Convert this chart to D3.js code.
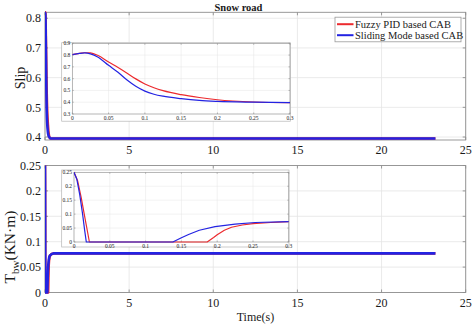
<!DOCTYPE html>
<html>
<head>
<meta charset="utf-8">
<script src="https://cdn.jsdelivr.net/npm/d3@7"></script>
<style>
  html, body { margin: 0; padding: 0; background: #fff; }
  svg { display: block; }
</style>
</head>
<body>
<svg id="chart" width="474" height="327" font-family="'Liberation Serif', 'Times New Roman', serif"></svg>
<script>
// ---- data -------------------------------------------------------------
const seriesNames = ["Fuzzy PID based CAB", "Sliding Mode based CAB"];
const xTicks = [0, 5, 10, 15, 20, 25];
const slipTicks = [0.4, 0.5, 0.6, 0.7, 0.8];
const torqueTicks = [0, 0.05, 0.1, 0.15, 0.2, 0.25];
const zoomXTicks = [0, 0.05, 0.1, 0.15, 0.2, 0.25, 0.3];
const zoomSlipTicks = [0.3, 0.4, 0.5, 0.6, 0.7, 0.8, 0.9];
const zoomTorqueTicks = [0, 0.05, 0.1, 0.15, 0.2, 0.25];

// wheel slip, shared time base (s)
const slipTime = [0, 0.01, 0.017, 0.025, 0.035, 0.05, 0.0625, 0.075, 0.0875, 0.1, 0.1125, 0.125, 0.15, 0.175, 0.2, 0.25, 0.3, 0.4, 0.6, 1, 23.2];
const slipFuzzy = [0.804, 0.815, 0.82, 0.818, 0.798, 0.741, 0.696, 0.648, 0.598, 0.555, 0.523, 0.498, 0.464, 0.44, 0.421, 0.402, 0.396, 0.395, 0.395, 0.395, 0.395];
const slipSliding = [0.804, 0.814, 0.818, 0.81, 0.784, 0.713, 0.656, 0.59, 0.535, 0.494, 0.468, 0.451, 0.43, 0.415, 0.407, 0.4, 0.396, 0.395, 0.395, 0.395, 0.395];

// braking torque (KN·m)
const torqueTimeFuzzy = [0, 0.005, 0.01, 0.015, 0.019, 0.0215, 0.186, 0.195, 0.2, 0.21, 0.22, 0.235, 0.25, 0.275, 0.3, 0.4, 0.5, 0.7, 1, 23.2];
const torqueFuzzy = [0.25, 0.22, 0.16, 0.09, 0.035, 0, 0, 0.016, 0.026, 0.042, 0.053, 0.061, 0.066, 0.07, 0.073, 0.076, 0.077, 0.077, 0.077, 0.077];
const torqueTimeSliding = [0, 0.004, 0.008, 0.012, 0.015, 0.0172, 0.138, 0.15, 0.16, 0.175, 0.197, 0.225, 0.253, 0.3, 0.4, 0.5, 0.7, 1, 23.2];
const torqueSliding = [0.25, 0.225, 0.17, 0.1, 0.04, 0, 0, 0.015, 0.027, 0.042, 0.055, 0.064, 0.07, 0.073, 0.076, 0.077, 0.077, 0.077, 0.077];

// ---- styling ----------------------------------------------------------
const RED = "#ec2a2e";
const BLUE = "#2323e2";
const GRID = "#e4e4e4";
const BOX = "#8f8f8f";
const TXT = "#1a1a1a";

const svg = d3.select("#chart");
const zip = (xs, ys) => xs.map((x, i) => ({ x, y: ys[i] }));

// generic axes panel: box, grid, inward ticks on all four sides
function panel(g, x, y, opt) {
  const [x0, x1] = x.range();
  const [y0, y1] = y.range(); // y0 bottom, y1 top
  // grid
  g.append("g").selectAll("line").data(opt.xTicks).join("line")
    .attr("x1", d => x(d)).attr("x2", d => x(d)).attr("y1", y0).attr("y2", y1)
    .attr("stroke", GRID).attr("stroke-width", opt.gw);
  g.append("g").selectAll("line").data(opt.yTicks).join("line")
    .attr("y1", d => y(d)).attr("y2", d => y(d)).attr("x1", x0).attr("x2", x1)
    .attr("stroke", GRID).attr("stroke-width", opt.gw);
  // box
  g.append("rect").attr("x", x0).attr("y", y1).attr("width", x1 - x0).attr("height", y0 - y1)
    .attr("fill", "none").attr("stroke", BOX).attr("stroke-width", opt.bw);
  // ticks (inward)
  const t = opt.tick;
  const tk = g.append("g").attr("stroke", BOX).attr("stroke-width", opt.bw);
  opt.xTicks.forEach(d => {
    tk.append("line").attr("x1", x(d)).attr("x2", x(d)).attr("y1", y0).attr("y2", y0 - t);
    tk.append("line").attr("x1", x(d)).attr("x2", x(d)).attr("y1", y1).attr("y2", y1 + t);
  });
  opt.yTicks.forEach(d => {
    tk.append("line").attr("y1", y(d)).attr("y2", y(d)).attr("x1", x0).attr("x2", x0 + t);
    tk.append("line").attr("y1", y(d)).attr("y2", y(d)).attr("x1", x1).attr("x2", x1 - t);
  });
  // tick labels
  g.append("g").selectAll("text").data(opt.xTicks).join("text")
    .attr("x", d => x(d)).attr("y", y0 + opt.xLabOff)
    .attr("text-anchor", "middle").attr("font-size", opt.fs).attr("fill", TXT)
    .text(opt.xFmt);
  g.append("g").selectAll("text").data(opt.yTicks).join("text")
    .attr("x", x0 - opt.yLabOff).attr("y", d => y(d)).attr("dy", "0.35em")
    .attr("text-anchor", "end").attr("font-size", opt.fs).attr("fill", TXT)
    .text(opt.yFmt);
}

function drawLines(g, x, y, series, width, clipId) {
  const [x0, x1] = x.range();
  const [y0, y1] = y.range();
  g.append("clipPath").attr("id", clipId).append("rect")
    .attr("x", x0).attr("y", y1 - 2).attr("width", x1 - x0).attr("height", y0 - y1 + 4);
  const lg = g.append("g").attr("clip-path", `url(#${clipId})`);
  series.forEach(s => {
    const line = d3.line().x(d => x(d.x)).y(d => y(d.y)).curve(s.curve);
    lg.append("path").datum(s.data.filter(d => d.x <= x.domain()[1] + 1e-9))
      .attr("d", line).attr("fill", "none").attr("stroke", s.color)
      .attr("stroke-width", width).attr("stroke-linejoin", "round");
  });
}

const fmt = d => String(+d.toFixed(2));

// ---- upper panel: slip ------------------------------------------------
const xMain = d3.scaleLinear().domain([0, 25]).range([45, 465.7]);
const ySlip = d3.scaleLinear().domain([0.39, 0.82]).range([140, 12.3]);
const gTop = svg.append("g");
panel(gTop, xMain, ySlip, { xTicks, yTicks: slipTicks, gw: 0.8, bw: 0.9, tick: 3, fs: 12, xLabOff: 14, yLabOff: 4, xFmt: d => d, yFmt: fmt });

const slipSeries = [
  { color: RED, data: zip(slipTime, slipFuzzy), curve: d3.curveMonotoneX },
  { color: BLUE, data: zip(slipTime, slipSliding), curve: d3.curveMonotoneX }
];
drawLines(gTop, xMain, ySlip, slipSeries, 2.6, "clipTop");

// title
svg.append("text").attr("x", 238.5).attr("y", 10.5).attr("text-anchor", "middle")
  .attr("font-size", 10.5).attr("font-weight", "bold").attr("fill", TXT).text("Snow road");

// y label
svg.append("text").attr("transform", "translate(25,78) rotate(-90)")
  .attr("text-anchor", "middle").attr("font-size", 14).attr("fill", TXT).text("Slip");

// inset: slip zoom
const gInTop = svg.append("g");
gInTop.append("rect").attr("x", 61.7).attr("y", 42.7).attr("width", 228.6).attr("height", 78.5)
  .attr("fill", "#fff").attr("stroke", "#b5b5b5").attr("stroke-width", 0.7);
const xZ1 = d3.scaleLinear().domain([0, 0.3]).range([72.3, 290]);
const yZ1 = d3.scaleLinear().domain([0.3, 0.9]).range([114, 43.3]);
panel(gInTop, xZ1, yZ1, { xTicks: zoomXTicks, yTicks: zoomSlipTicks, gw: 0.5, bw: 0.6, tick: 1.5, fs: 5.5, xLabOff: 6, yLabOff: 2, xFmt: fmt, yFmt: fmt });
drawLines(gInTop, xZ1, yZ1, slipSeries, 1.2, "clipZ1");

// legend
const leg = svg.append("g");
leg.append("rect").attr("x", 335).attr("y", 17.2).attr("width", 126).attr("height", 24.6)
  .attr("fill", "#fff").attr("stroke", "#9a9a9a").attr("stroke-width", 0.8);
[RED, BLUE].forEach((c, i) => {
  const yy = 24.2 + i * 11;
  leg.append("line").attr("x1", 337).attr("x2", 353.5).attr("y1", yy).attr("y2", yy)
    .attr("stroke", c).attr("stroke-width", 2);
  leg.append("text").attr("x", 355).attr("y", yy).attr("dy", "0.35em")
    .attr("font-size", 10.5).attr("fill", TXT).text(seriesNames[i]);
});

// ---- lower panel: braking torque --------------------------------------
const yTq = d3.scaleLinear().domain([0, 0.25]).range([292.5, 165.5]);
const gBot = svg.append("g");
panel(gBot, xMain, yTq, { xTicks, yTicks: torqueTicks, gw: 0.8, bw: 0.9, tick: 3, fs: 12, xLabOff: 14.5, yLabOff: 4, xFmt: d => d, yFmt: fmt });

const torqueSeries = [
  { color: RED, data: zip(torqueTimeFuzzy, torqueFuzzy), curve: d3.curveLinear },
  { color: BLUE, data: zip(torqueTimeSliding, torqueSliding), curve: d3.curveLinear }
];
drawLines(gBot, xMain, yTq, torqueSeries, 2.6, "clipBot");

// y label with subscript
const tl = svg.append("text").attr("transform", "translate(14.5,247) rotate(-90)")
  .attr("text-anchor", "middle").attr("font-size", 15.5).attr("fill", TXT);
tl.append("tspan").text("T");
tl.append("tspan").attr("font-size", 11).attr("dy", 4).text("bw");
tl.append("tspan").attr("dy", -4).text("(KN·m)");

// x label
svg.append("text").attr("x", 255.5).attr("y", 321).attr("text-anchor", "middle")
  .attr("font-size", 12).attr("fill", TXT).text("Time(s)");

// inset: torque zoom
const gInBot = svg.append("g");
gInBot.append("rect").attr("x", 61.7).attr("y", 170).attr("width", 227.3).attr("height", 77)
  .attr("fill", "#fff").attr("stroke", "#b5b5b5").attr("stroke-width", 0.7);
const xZ2 = d3.scaleLinear().domain([0, 0.3]).range([74, 288.8]);
const yZ2 = d3.scaleLinear().domain([0, 0.25]).range([242, 172.3]);
panel(gInBot, xZ2, yZ2, { xTicks: zoomXTicks, yTicks: zoomTorqueTicks, gw: 0.5, bw: 0.6, tick: 1.5, fs: 5.5, xLabOff: 6, yLabOff: 2, xFmt: fmt, yFmt: fmt });
drawLines(gInBot, xZ2, yZ2, torqueSeries, 1.2, "clipZ2");
</script>
</body>
</html>
